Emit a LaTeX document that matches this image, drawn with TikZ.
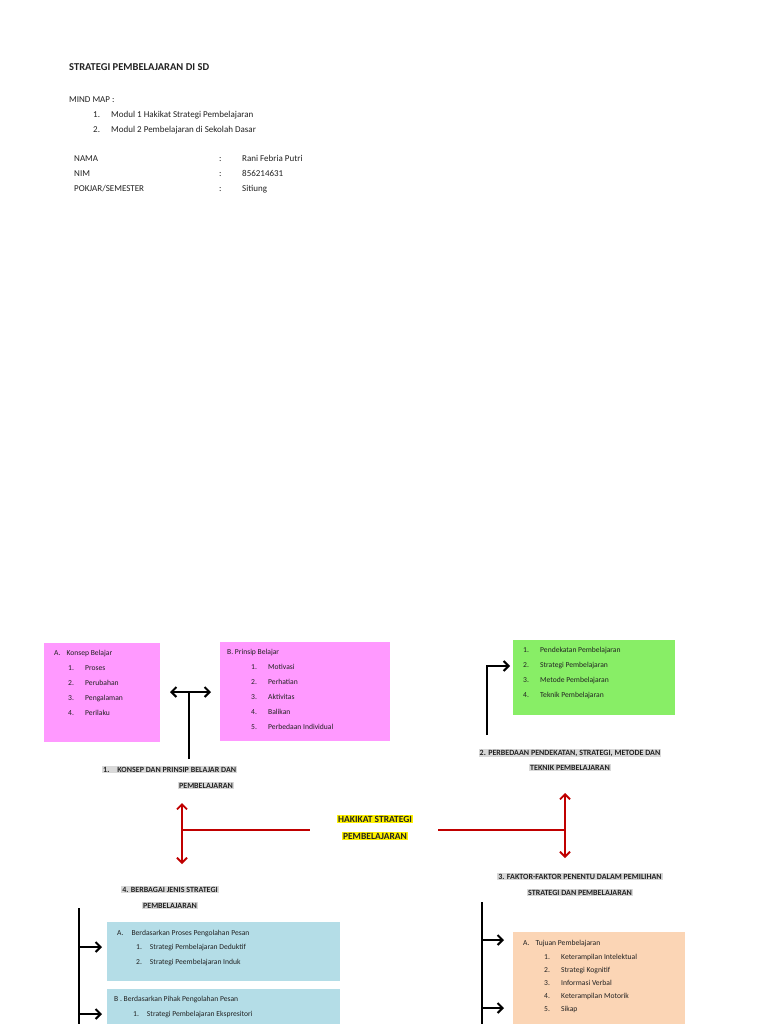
\documentclass[tikz,border=0pt]{standalone}
\usepackage{fontspec}
\setmainfont{Carlito}
\usetikzlibrary{arrows.meta}
\definecolor{pinkb}{HTML}{FF99FF}
\definecolor{greenb}{HTML}{88EE66}
\definecolor{blueb}{HTML}{B4DDE7}
\definecolor{orangeb}{HTML}{FBD5B5}
\definecolor{hl}{HTML}{D9D9D9}
\definecolor{redl}{HTML}{C00000}
\definecolor{txt}{HTML}{222222}
\tikzset{
  hdr/.style={anchor=base west,inner sep=0,font=\fontsize{9}{10}\selectfont,text=txt},
  itm/.style={anchor=base west,inner sep=0,font=\fontsize{7.6}{9}\selectfont,text=txt},
  ttl/.style={fill=hl,inner sep=1pt,font=\bfseries\fontsize{8}{9}\selectfont,text=txt},
  box/.style={draw=none,anchor=north west},
  blk/.style={line width=2.2pt,black},
  blkarr/.style={blk,-{Straight Barb[length=5pt,width=10pt,line width=2pt]}},
  redarr/.style={line width=1.8pt,redl,{Straight Barb[length=5pt,width=10pt,line width=1.8pt]}-{Straight Barb[length=5pt,width=10pt,line width=1.8pt]}},
}
\begin{document}
\begin{tikzpicture}[x=1pt,y=-1pt]
\useasboundingbox[fill=white] (0,0) rectangle (768,1024);
% header
\node[anchor=base west,inner sep=0,font=\bfseries\fontsize{10.5}{12}\selectfont,text=txt] (title) at (69,71) {STRATEGI PEMBELAJARAN DI SD};
\node[hdr] (mm) at (69,103) {MIND MAP :};
\node[hdr] (m1) at (93,118) {1.};
\node[hdr] (m1t) at (111,118) {Modul 1 Hakikat Strategi Pembelajaran};
\node[hdr] (m2) at (93,133) {2.};
\node[hdr] (m2t) at (111,133) {Modul 2 Pembelajaran di Sekolah Dasar};
\node[hdr] (n1) at (74,162) {NAMA};
\node[hdr] (n2) at (74,177) {NIM};
\node[hdr] (n3) at (74,192) {POKJAR/SEMESTER};
\foreach \y/\v [count=\i] in {162/Rani Febria Putri,177/856214631,192/Sitiung/I}{
  \node[hdr] (c\i) at (219,\y) {:};
  \node[hdr] (v\i) at (242,\y) {\v};
}
% boxes
\fill[pinkb] (44,643) rectangle (160,742);
\node[box,minimum width=0,inner sep=0] (boxA) at (44,643) {};
\node[itm] (a0) at (54,655) {A.\hspace{6pt}Konsep Belajar};
\foreach \y/\t [count=\i] in {670/Proses,685/Perubahan,700/Pengalaman,715/Perilaku}{
  \node[itm] (ai\i) at (68,\y) {\i.}; \node[itm] (at\i) at (85,\y) {\t};}
\fill[pinkb] (220,642) rectangle (390,741);
\node[itm] (b0) at (227,654) {B. Prinsip Belajar};
\foreach \y/\t [count=\i] in {669/Motivasi,684/Perhatian,699/Aktivitas,714/Balikan,729/Perbedaan Individual}{
  \node[itm] (bi\i) at (251,\y) {\i.}; \node[itm] (bt\i) at (268,\y) {\t};}
\fill[greenb] (513,640) rectangle (675,715);
\foreach \y/\t [count=\i] in {652/Pendekatan Pembelajaran,667/Strategi Pembelajaran,682/Metode Pembelajaran,697/Teknik Pembelajaran}{
  \node[itm] (gi\i) at (523,\y) {\i.}; \node[itm] (gt\i) at (540,\y) {\t};}
\fill[blueb] (107,922) rectangle (340,981);
\node[itm] (p0) at (117,935) {A.\hspace{8pt}Berdasarkan Proses Pengolahan Pesan};
\node[itm] (p1) at (136,949) {1.\hspace{8pt}Strategi Pembelajaran Deduktif};
\node[itm] (p2) at (136,964) {2.\hspace{8pt}Strategi Peembelajaran Induk};
\fill[blueb] (107,989) rectangle (340,1024);
\node[itm] (q0) at (114,1001) {B . Berdasarkan Pihak Pengolahan Pesan};
\node[itm] (q1) at (133,1016) {1.\hspace{8pt}Strategi Pembelajaran Ekspresitori};
\fill[orangeb] (513,932) rectangle (685,1024);
\node[itm] (r0) at (523,945) {A.\hspace{6pt}Tujuan Pembelajaran};
\foreach \y/\t [count=\i] in {959/Keterampilan Intelektual,972/Strategi Kognitif,985/Informasi Verbal,998/Keterampilan Motorik,1011/Sikap}{
  \node[itm] (ri\i) at (544,\y) {\i.}; \node[itm] (rt\i) at (561,\y) {\t};}
% titles
\node[ttl,anchor=base west] (t1a) at (102,772) {1.\hspace{8pt}KONSEP DAN PRINSIP BELAJAR DAN};
\node[ttl,anchor=base] (t1b) at (206,788) {PEMBELAJARAN};
\node[ttl,anchor=base] (t2a) at (570,755) {2. PERBEDAAN PENDEKATAN, STRATEGI, METODE DAN};
\node[ttl,anchor=base] (t2b) at (570,770) {TEKNIK PEMBELAJARAN};
\node[ttl,anchor=base] (t3a) at (580,879) {3. FAKTOR-FAKTOR PENENTU DALAM PEMILIHAN};
\node[ttl,anchor=base] (t3b) at (580,895) {STRATEGI DAN PEMBELAJARAN};
\node[ttl,anchor=base] (t4a) at (170,892) {4. BERBAGAI JENIS STRATEGI};
\node[ttl,anchor=base] (t4b) at (170,908) {PEMBELAJARAN};
\node[fill=yellow,inner sep=1pt,font=\bfseries\fontsize{9.5}{10}\selectfont,text=txt,anchor=base] (h1) at (375,822) {HAKIKAT STRATEGI};
\node[fill=yellow,inner sep=1pt,font=\bfseries\fontsize{9.5}{10}\selectfont,text=txt,anchor=base] (h2) at (375,839) {PEMBELAJARAN};
% black connectors
\coordinate (k1) at (189,759); \coordinate (k2) at (189,692);
\coordinate (kl) at (170,692); \coordinate (kr) at (211,692);
\draw[blk] (k1) -- (k2);
\draw[blk,{Straight Barb[length=5pt,width=10pt,line width=2pt]}-{Straight Barb[length=5pt,width=10pt,line width=2pt]}] (kl) -- (kr);
\coordinate (g1) at (487,735); \coordinate (g2) at (510,666);
\draw[blkarr] (g1) |- (g2);
\coordinate (l1) at (79,908); \coordinate (l2) at (79,1024);
\draw[blk] (l1) -- (l2);
\coordinate (la) at (102,947); \coordinate (lb) at (102,1014);
\draw[blkarr] (79,947) -- (la);
\draw[blkarr] (79,1014) -- (lb);
\coordinate (r1) at (482,902); \coordinate (r2) at (482,1024);
\draw[blk] (r1) -- (r2);
\coordinate (ra) at (504,940); \coordinate (rb) at (504,1008);
\draw[blkarr] (482,940) -- (ra);
\draw[blkarr] (482,1008) -- (rb);
% red connectors
\coordinate (L1) at (182,803); \coordinate (L2) at (182,864);
\coordinate (Lm) at (182,830); \coordinate (Lh) at (310,830);
\draw[redarr] (L1) -- (L2);
\draw[line width=1.8pt,redl] (Lm) -- (Lh);
\coordinate (R1) at (565,793); \coordinate (R2) at (565,858);
\coordinate (Rm) at (565,830); \coordinate (Rh) at (438,830);
\draw[redarr] (R1) -- (R2);
\draw[line width=1.8pt,redl] (Rh) -- (Rm);
\end{tikzpicture}
\end{document}
